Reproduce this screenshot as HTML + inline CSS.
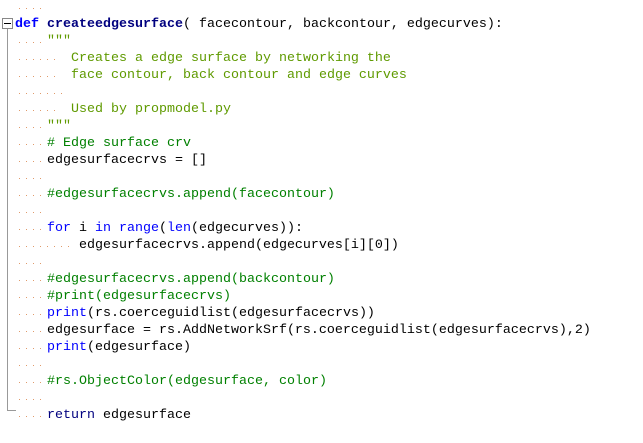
<!DOCTYPE html>
<html><head><meta charset="utf-8"><style>
html,body{margin:0;padding:0;background:#fff;width:643px;height:443px;overflow:hidden;position:relative}
.l{position:absolute;left:15px;height:17px;line-height:17px;font-family:"Liberation Mono","Courier New",monospace;font-size:13.33px;white-space:pre;color:#000}
.d{position:absolute;left:19px;height:1px;background:repeating-linear-gradient(90deg,#e09a6a 0,#e09a6a 1px,transparent 1px,transparent 7px)}
.k{color:#0000ff;font-weight:bold}
.f{color:#00007f;font-weight:bold}
.b{color:#0000ff}
.r{color:#00007f}
.c{color:#008000}
.s{color:#5f9a00}
</style></head><body>
<div style="position:absolute;left:2px;top:18px;width:9px;height:9px;border:1px solid #888;background:#fff"></div>
<div style="position:absolute;left:4px;top:23px;width:7px;height:1px;background:#000"></div>
<div style="position:absolute;left:7px;top:29px;width:1px;height:382px;background:#999"></div>
<div style="position:absolute;left:7px;top:410px;width:9px;height:1px;background:#999"></div>

<div class="d" style="top:8px;width:28px"></div>
<div class="d" style="top:42px;width:28px"></div>
<div class="d" style="top:59px;width:42px"></div>
<div class="d" style="top:76px;width:42px"></div>
<div class="d" style="top:93px;width:49px"></div>
<div class="d" style="top:110px;width:42px"></div>
<div class="d" style="top:127px;width:28px"></div>
<div class="d" style="top:144px;width:28px"></div>
<div class="d" style="top:161px;width:28px"></div>
<div class="d" style="top:178px;width:28px"></div>
<div class="d" style="top:195px;width:28px"></div>
<div class="d" style="top:212px;width:28px"></div>
<div class="d" style="top:229px;width:28px"></div>
<div class="d" style="top:246px;width:56px"></div>
<div class="d" style="top:263px;width:28px"></div>
<div class="d" style="top:280px;width:28px"></div>
<div class="d" style="top:297px;width:28px"></div>
<div class="d" style="top:314px;width:28px"></div>
<div class="d" style="top:331px;width:28px"></div>
<div class="d" style="top:348px;width:28px"></div>
<div class="d" style="top:365px;width:28px"></div>
<div class="d" style="top:382px;width:28px"></div>
<div class="d" style="top:399px;width:28px"></div>
<div class="d" style="top:416px;width:28px"></div>

<div class="l" style="top:16px"><span class="k">def</span> <span class="f">createedgesurface</span>( facecontour, backcontour, edgecurves):</div>
<div class="l" style="top:33px">    <span class="s">"""</span></div>
<div class="l" style="top:50px">       <span class="s">Creates a edge surface by networking the</span></div>
<div class="l" style="top:67px">       <span class="s">face contour, back contour and edge curves</span></div>
<div class="l" style="top:101px">       <span class="s">Used by propmodel.py</span></div>
<div class="l" style="top:118px">    <span class="s">"""</span></div>
<div class="l" style="top:135px">    <span class="c"># Edge surface crv</span></div>
<div class="l" style="top:152px">    edgesurfacecrvs = []</div>
<div class="l" style="top:186px">    <span class="c">#edgesurfacecrvs.append(facecontour)</span></div>
<div class="l" style="top:220px">    <span class="b">for</span> i <span class="b">in</span> <span class="b">range</span>(<span class="b">len</span>(edgecurves)):</div>
<div class="l" style="top:237px">        edgesurfacecrvs.append(edgecurves[i][0])</div>
<div class="l" style="top:271px">    <span class="c">#edgesurfacecrvs.append(backcontour)</span></div>
<div class="l" style="top:288px">    <span class="c">#print(edgesurfacecrvs)</span></div>
<div class="l" style="top:305px">    <span class="b">print</span>(rs.coerceguidlist(edgesurfacecrvs))</div>
<div class="l" style="top:322px">    edgesurface = rs.AddNetworkSrf(rs.coerceguidlist(edgesurfacecrvs),2)</div>
<div class="l" style="top:339px">    <span class="b">print</span>(edgesurface)</div>
<div class="l" style="top:373px">    <span class="c">#rs.ObjectColor(edgesurface, color)</span></div>
<div class="l" style="top:407px">    <span class="r">return</span> edgesurface</div>
</body></html>
